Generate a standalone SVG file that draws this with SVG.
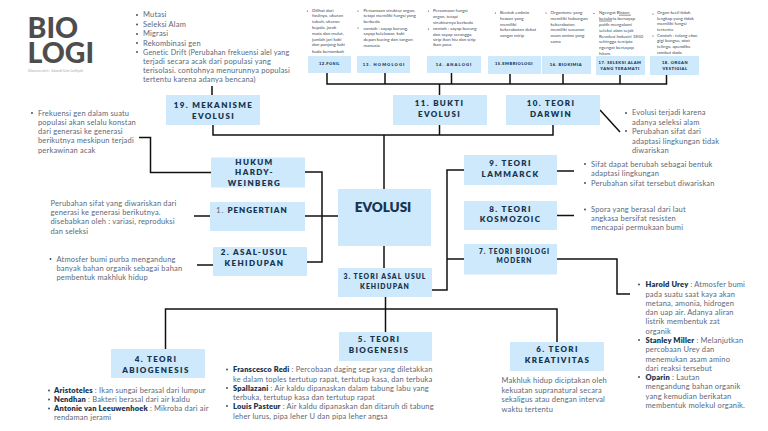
<svg xmlns="http://www.w3.org/2000/svg" width="768" height="431" viewBox="0 0 768 431">
<style>
text{font-family:"Lato","Liberation Sans",sans-serif}
.b{fill:#cde9fb}
.h{font-weight:800;fill:#17344f;text-anchor:middle;font-size:8px;letter-spacing:1.35px}
.s{font-weight:800;fill:#17344f;text-anchor:middle;font-size:4px;letter-spacing:.55px}
.w{letter-spacing:1.1px}
.x{font-size:6.800px;letter-spacing:1.050px}
.y{font-size:6.500px;letter-spacing:1.050px}
.t{fill:#5b6878;font-size:7.5px;letter-spacing:.17px}
.m{fill:#3c4a5c;font-size:4.5px}
.k{font-weight:800;fill:#17344f}
.d{fill:#2c4158}
.l{fill:none;stroke:#111;stroke-width:1.5}
</style>
<rect width="768" height="431" fill="#fff"/>
<g id="connectors">
<path class="l" d="M327 73V84H666.500V73M385 73V84M451.500 73V84M510 73V84M563 73V84M620 73V84M439.500 84V95"/>
<path class="l" d="M212 86V95M213 125V135H553V125M439.500 125V135M384 135V189M384 246V268"/>
<path class="l" d="M139 137.500H150.500V172.500H211M305 172H322V262H307M305 216H338"/>
<path class="l" d="M194 216H210M197 265H213" stroke-width="2"/>
<path class="l" d="M600 110L620 132M557 171H574M557 215.500H574"/>
<path class="l" d="M464 170H447V290H432M464 259H447M557 259H617V294H630"/>
<path class="l" d="M385.500 297V332M165.500 349V309H557V342"/>
</g>
<g id="title">
<text font-size="28.500" font-weight="900" fill="#4d4d4d"><tspan x="27.500" y="38">BIO</tspan><tspan x="27.500" y="63">LOGI</tspan></text>
<text x="28" y="72" font-size="3.600" fill="#aaa">Disusun oleh : Iskandi Umi Lutfiyah</text>
</g>
<g id="n19"><rect class="b" x="166" y="95" width="94" height="30"/><text class="h" x="213.500" y="108">19. MEKANISME</text><text class="h" x="213.500" y="119">EVOLUSI</text></g>
<g id="n11"><rect class="b" x="393" y="95" width="94" height="30"/><text class="h" x="439.500" y="106">11. BUKTI</text><text class="h" x="439.500" y="117">EVOLUSI</text></g>
<g id="n10"><rect class="b" x="506" y="95" width="94" height="30"/><text class="h" x="551" y="106">10. TEORI</text><text class="h" x="551" y="117">DARWIN</text></g>
<g id="n12"><rect class="b" x="308" y="56" width="43" height="17"/><text class="s" x="329.500" y="65">12.FOSIL</text></g>
<g id="n13"><rect class="b" x="357" y="56" width="53" height="17"/><text class="s w" x="384" y="66">13. HOMOLOGI</text></g>
<g id="n14"><rect class="b" x="427" y="56" width="54" height="17"/><text class="s w" x="454" y="65.500">14. ANALOGI</text></g>
<g id="n15"><rect class="b" x="488" y="56" width="53" height="18"/><text class="s" x="514" y="65">15.EMBRIOLOGI</text></g>
<g id="n16"><rect class="b" x="542" y="56" width="49" height="18"/><text class="s" x="566" y="66">16. BIOKIMIA</text></g>
<g id="n17"><rect class="b" x="596" y="56" width="49" height="19"/><text class="s" x="620" y="63.500">17. SELEKSI ALAM</text><text class="s" x="620" y="70">YANG TERAMATI</text></g>
<g id="n18"><rect class="b" x="650" y="56" width="49" height="19"/><text class="s" x="675" y="63.500">18. ORGAN</text><text class="s" x="675" y="70">VESTIGIAL</text></g>
<g id="hardy"><rect class="b" x="211" y="157.500" width="94" height="30"/><text class="h" x="254.500" y="164.500">HUKUM</text><text class="h" x="254.500" y="175">HARDY-</text><text class="h" x="254.500" y="186">WEINBERG</text></g>
<g id="n1"><rect class="b" x="210" y="202" width="95" height="29"/><text class="h" x="216" y="213" style="text-anchor:start;letter-spacing:.95px"><tspan font-weight="400" fill="#5b6878">1. </tspan>PENGERTIAN</text></g>
<g id="n2"><rect class="b" x="213" y="247" width="94" height="29"/><text class="h" x="254.500" y="255">2. ASAL-USUL</text><text class="h" x="254.500" y="266">KEHIDUPAN</text></g>
<g id="evolusi"><rect class="b" x="338" y="189" width="93" height="57"/><text x="383" y="212" font-size="13.500" font-weight="800" fill="#17344f" text-anchor="middle">EVOLUSI</text></g>
<g id="n3"><rect class="b" x="338" y="268" width="94" height="29"/><text class="h x" x="385" y="278.500">3. TEORI ASAL USUL</text><text class="h x" x="385" y="288.500">KEHIDUPAN</text></g>
<g id="n9"><rect class="b" x="464" y="155" width="93" height="30"/><text class="h" x="510.500" y="166">9. TEORI</text><text class="h" x="510.500" y="177">LAMMARCK</text></g>
<g id="n8"><rect class="b" x="464" y="201" width="93" height="29"/><text class="h" x="510.500" y="212">8. TEORI</text><text class="h" x="510.500" y="222">KOSMOZOIC</text></g>
<g id="n7"><rect class="b" x="464" y="244" width="93" height="30.500"/><text class="h y" x="514.500" y="254">7. TEORI BIOLOGI</text><text class="h y" x="514.500" y="263.300">MODERN</text></g>
<g id="n4"><rect class="b" x="111" y="349" width="94" height="29"/><text class="h" x="156" y="361.500">4. TEORI</text><text class="h" x="156" y="372.500">ABIOGENESIS</text></g>
<g id="n5"><rect class="b" x="339" y="332" width="93" height="29"/><text class="h" x="379" y="342">5. TEORI</text><text class="h" x="379" y="353">BIOGENESIS</text></g>
<g id="n6"><rect class="b" x="510" y="342" width="94" height="29"/><text class="h" x="557.500" y="352">6. TEORI</text><text class="h" x="557.500" y="363">KREATIVITAS</text></g>

<g id="note-mekanisme">
<circle class="d" cx="137" cy="15" r=".9"/><circle class="d" cx="137" cy="24.500" r=".9"/><circle class="d" cx="137" cy="34" r=".9"/><circle class="d" cx="137" cy="43" r=".9"/><circle class="d" cx="137" cy="52" r=".9"/>
<text class="t" x="143" y="17">Mutasi</text><text class="t" x="143" y="27">Seleksi Alam</text><text class="t" x="143" y="36">Migrasi</text><text class="t" x="143" y="45.500">Rekombinasi gen</text><text class="t" x="143" y="54.500" style="font-size:7.200px">Genetic Drift (Perubahan frekuensi alel yang</text><text class="t" x="143" y="63.500">terjadi secara acak dari populasi yang</text><text class="t" x="143" y="72.500">terisolasi. contohnya menurunnya populasi</text><text class="t" x="143" y="81.500">tertentu karena adanya bencana)</text>
</g>
<g id="note-hardy">
<circle class="d" cx="32" cy="113" r=".9"/>
<text class="t" x="38" y="115.500">Frekuensi gen dalam suatu</text><text class="t" x="38" y="124.500">populasi akan selalu konstan</text><text class="t" x="38" y="133.500">dari generasi ke generasi</text><text class="t" x="38" y="143">berikutnya meskipun terjadi</text><text class="t" x="38" y="152.500">perkawinan acak</text>
</g>
<g id="note-1">
<text class="t" x="50.500" y="206">Perubahan sifat yang diwariskan dari</text><text class="t" x="50.500" y="215">generasi ke generasi berikutnya.</text><text class="t" x="50.500" y="224">disebabkan oleh : variasi, reproduksi</text><text class="t" x="50.500" y="234">dan seleksi</text>
</g>
<g id="note-2">
<circle class="d" cx="50.500" cy="259" r=".9"/>
<text class="t" x="56.500" y="261.500">Atmosfer bumi purba mengandung</text><text class="t" x="56.500" y="270.500">banyak bahan organik sebagai bahan</text><text class="t" x="56.500" y="280">pembentuk makhluk hidup</text>
</g>
<g id="note-10">
<circle class="d" cx="626" cy="113" r=".9"/><circle class="d" cx="626" cy="131" r=".9"/>
<text class="t" x="632" y="115">Evolusi terjadi karena</text><text class="t" x="632" y="124.500">adanya seleksi alam</text><text class="t" x="632" y="133.500">Perubahan sifat dari</text><text class="t" x="632" y="143.500">adaptasi lingkungan tidak</text><text class="t" x="632" y="152.500">diwariskan</text>
</g>
<g id="note-9">
<circle class="d" cx="585" cy="164" r=".9"/><circle class="d" cx="585" cy="183" r=".9"/>
<text class="t" x="591" y="166.500">Sifat dapat berubah sebagai bentuk</text><text class="t" x="591" y="175.500">adaptasi lingkungan</text><text class="t" x="591" y="185.500">Perubahan sifat tersebut diwariskan</text>
</g>
<g id="note-8">
<circle class="d" cx="585" cy="209.500" r=".9"/>
<text class="t" x="591" y="212">Spora yang berasal dari laut</text><text class="t" x="591" y="221">angkasa bersifat resisten</text><text class="t" x="591" y="230">mencapai permukaan bumi</text>
</g>
<g id="note-7">
<circle class="d" cx="639" cy="284.500" r=".9"/><circle class="d" cx="639" cy="340" r=".9"/><circle class="d" cx="639" cy="377" r=".9"/>
<text class="t" x="645.500" y="287"><tspan class="k">Harold Urey</tspan> : Atmosfer bumi</text><text class="t" x="645.500" y="296.500">pada suatu saat kaya akan</text><text class="t" x="645.500" y="306">metana, amonia, hidrogen</text><text class="t" x="645.500" y="315">dan uap air. Adanya aliran</text><text class="t" x="645.500" y="324">listrik membentuk zat</text><text class="t" x="645.500" y="333.500">organik</text><text class="t" x="645.500" y="342.500"><tspan class="k">Stanley Miller</tspan> : Melanjutkan</text><text class="t" x="645.500" y="352">percobaan Urey dan</text><text class="t" x="645.500" y="361.500">menemukan asam amino</text><text class="t" x="645.500" y="370.500">dari reaksi tersebut</text><text class="t" x="645.500" y="379.500"><tspan class="k">Oparin</tspan> : Lautan</text><text class="t" x="645.500" y="389">mengandung bahan organik</text><text class="t" x="645.500" y="398.500">yang kemudian berikatan</text><text class="t" x="645.500" y="408">membentuk molekul organik.</text>
</g>
<g id="note-6">
<text class="t" x="501.500" y="383">Makhluk hidup diciptakan oleh</text><text class="t" x="501.500" y="392.500">kekuatan supranatural secara</text><text class="t" x="501.500" y="401.500">sekaligus atau dengan interval</text><text class="t" x="501.500" y="412">waktu tertentu</text>
</g>
<g id="note-4">
<circle class="d" cx="49" cy="390.500" r=".9"/><circle class="d" cx="49" cy="399.500" r=".9"/><circle class="d" cx="49" cy="408.500" r=".9"/>
<text class="t" x="54" y="393"><tspan class="k">Aristoteles</tspan> : Ikan sungai berasal dari lumpur</text><text class="t" x="54" y="402"><tspan class="k">Nendhan</tspan> : Bakteri berasal dari air kaldu</text><text class="t" x="54" y="411"><tspan class="k">Antonie van Leeuwenhoek</tspan> : Mikroba dari air</text><text class="t" x="54" y="420">rendaman jerami</text>
</g>
<g id="note-5">
<circle class="d" cx="227" cy="369.500" r=".9"/><circle class="d" cx="227" cy="388" r=".9"/><circle class="d" cx="227" cy="406" r=".9"/>
<text class="t" x="233" y="371.500"><tspan class="k">Franscesco Redi</tspan> : Percobaan daging segar yang diletakkan</text><text class="t" x="233" y="381.500">ke dalam toples tertutup rapat, tertutup kasa, dan terbuka</text><text class="t" x="233" y="390.500"><tspan class="k">Spallazani</tspan> : Air kaldu dipanaskan dalam tabung labu yang</text><text class="t" x="233" y="399.500">terbuka, tertutup kasa dan tertutup rapat</text><text class="t" x="233" y="408.500"><tspan class="k">Louis Pasteur</tspan> : Air kaldu dipanaskan dan ditaruh di tabung</text><text class="t" x="233" y="418.500">leher lurus, pipa leher U dan pipa leher angsa</text>
</g>
<g id="note-12">
<circle class="d" cx="307.500" cy="11" r=".6"/>
<text class="m" x="312" y="11.500">Dilihat dari</text><text class="m" x="312" y="17.200">fosilnya, ukuran</text><text class="m" x="312" y="22.800">tubuh, ukuran</text><text class="m" x="312" y="28.800">kepala, jarak</text><text class="m" x="312" y="34.800">mata dan mulut,</text><text class="m" x="312" y="40.500">jumlah jari kaki</text><text class="m" x="312" y="46.200">dan panjang kaki</text><text class="m" x="312" y="52.500">kuda bertambah</text>
</g>
<g id="note-13">
<circle class="d" cx="358" cy="11" r=".6"/><circle class="d" cx="358" cy="28" r=".6"/>
<text class="m" x="363.500" y="11.500">Persamaan struktur organ,</text><text class="m" x="363.500" y="17.200">tetapi memiliki fungsi yang</text><text class="m" x="363.500" y="22.800">berbeda</text><text class="m" x="363.500" y="29.500">contoh : sayap burung,</text><text class="m" x="363.500" y="35">sayap kelelawar, kaki</text><text class="m" x="363.500" y="40.500">depan kucing dan tangan</text><text class="m" x="363.500" y="46.500">manusia</text>
</g>
<g id="note-14">
<circle class="d" cx="428.500" cy="11" r=".6"/><circle class="d" cx="428.500" cy="29" r=".6"/>
<text class="m" x="433" y="11.500">Persamaan fungsi</text><text class="m" x="433" y="17.500">organ, tetapi</text><text class="m" x="433" y="23.500">strukturnya berbeda</text><text class="m" x="433" y="29.500">contoh : sayap burung</text><text class="m" x="433" y="35.500">dan sayap serangga,</text><text class="m" x="433" y="40.500">sirip ikan hiu dan sirip</text><text class="m" x="433" y="46">ikan paus</text>
</g>
<g id="note-15">
<circle class="d" cx="495.500" cy="13" r=".6"/>
<text class="m" x="500" y="14">Bentuk embrio</text><text class="m" x="500" y="20">hewan yang</text><text class="m" x="500" y="25.500">memiliki</text><text class="m" x="500" y="30.500">kekerabatan dekat</text><text class="m" x="500" y="36.500">sangat mirip</text>
</g>
<g id="note-16">
<circle class="d" cx="546" cy="13" r=".6"/>
<text class="m" x="550.500" y="14">Organisme yang</text><text class="m" x="550.500" y="19.500">memiliki hubungan</text><text class="m" x="550.500" y="25.500">kekerabatan</text><text class="m" x="550.500" y="31">memiliki susunan</text><text class="m" x="550.500" y="36.500">asam amino yang</text><text class="m" x="550.500" y="42.500">sama</text>
</g>
<g id="note-17">
<circle class="d" cx="594" cy="13.500" r=".6"/>
<path d="M619 15.200H631M599 21H612" stroke="#222" stroke-width=".5" fill="none"/>
<text class="m" x="599" y="14.200">Ngengat Biston</text><text class="m" x="599" y="20">betularia bersayap</text><text class="m" x="599" y="25.500">putih mengalami</text><text class="m" x="599" y="31.500">seleksi alam sejak</text><text class="m" x="599" y="37.500">Revolusi Industri 1850</text><text class="m" x="599" y="42.500">sehingga tercipta</text><text class="m" x="599" y="48.500">ngengat bersayap</text><text class="m" x="599" y="54.500">hitam</text>
</g>
<g id="note-18">
<circle class="d" cx="653" cy="14" r=".6"/><circle class="d" cx="653" cy="36" r=".6"/>
<text class="m" x="657" y="14.200">Organ kecil tidak</text><text class="m" x="657" y="19.500">lengkap yang tidak</text><text class="m" x="657" y="25.200">memiliki fungsi</text><text class="m" x="657" y="31.200">tertentu</text><text class="m" x="657" y="37">Contoh : tulang ekor,</text><text class="m" x="657" y="42">gigi bungsu, otot</text><text class="m" x="657" y="47.500">telinga, apendiks,</text><text class="m" x="657" y="53.500">rambut dada</text>
</g>
</svg>
